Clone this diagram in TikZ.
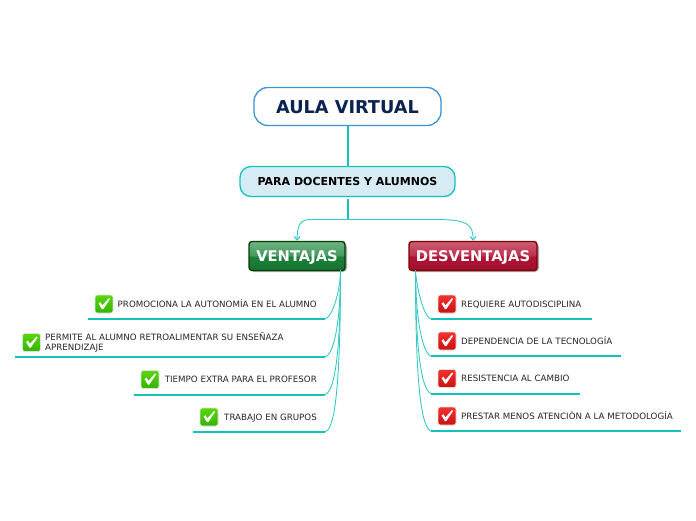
\documentclass[tikz,border=0pt]{standalone}
\usepackage{fontspec}
\setmainfont{DejaVu Sans}
\usepackage{tikz}
\usetikzlibrary{arrows.meta}

\definecolor{linkteal}{HTML}{12C2BE}
\definecolor{rootblue}{HTML}{3A94D4}
\definecolor{rootink}{HTML}{0B2350}
\definecolor{subfill}{HTML}{D6EBF3}
\definecolor{ga}{HTML}{167232}
\definecolor{gb}{HTML}{1C823A}
\definecolor{gc}{HTML}{469B5F}
\definecolor{gd}{HTML}{6EB284}
\definecolor{ra}{HTML}{A01030}
\definecolor{rb}{HTML}{B01434}
\definecolor{rc}{HTML}{BC3250}
\definecolor{rd}{HTML}{CC5C74}
\definecolor{ka}{HTML}{32B400}
\definecolor{kb}{HTML}{5AD70A}
\definecolor{kc}{HTML}{CD1010}
\definecolor{kd}{HTML}{F5322D}
\pgfdeclareverticalshading{glossgreen}{100bp}{color(0bp)=(ga); color(25bp)=(ga); color(49bp)=(gb); color(51bp)=(gc); color(75bp)=(gd); color(100bp)=(gd)}
\pgfdeclareverticalshading{glossred}{100bp}{color(0bp)=(ra); color(25bp)=(ra); color(49bp)=(rb); color(51bp)=(rc); color(75bp)=(rd); color(100bp)=(rd)}
\pgfdeclareverticalshading{tickgreen}{100bp}{color(0bp)=(ka); color(25bp)=(ka); color(75bp)=(kb); color(100bp)=(kb)}
\pgfdeclareverticalshading{tickred}{100bp}{color(0bp)=(kc); color(25bp)=(kc); color(75bp)=(kd); color(100bp)=(kd)}
\tikzset{
    rootnode/.style={draw=rootblue, line width=1.3pt, fill=white, rounded corners=14pt, minimum width=187pt, minimum height=38pt, text=rootink, text height=13pt, text depth=0pt, font=\fontsize{17.7}{20}\selectfont\bfseries},
    subnode/.style={draw=linkteal, line width=1.3pt, fill=subfill, rounded corners=11pt, minimum width=215pt, minimum height=30pt, text height=8pt, text depth=0pt, font=\fontsize{11}{13}\selectfont\bfseries},
    headnode/.style={rounded corners=3pt, line width=1.4pt, text=white, minimum height=29pt, text height=10.7pt, text depth=0pt, font=\fontsize{14.7}{17}\selectfont\bfseries},
    headshade/.style={rounded corners=4pt, fill=black!35},
    leaftext/.style={inner sep=0pt, font=\fontsize{8.7}{10}\selectfont, text=black!85},
    oneline/.style={text height=6.4pt, text depth=0pt},
    tickbox/.style={minimum size=18pt, inner sep=0pt, rounded corners=2.5pt, draw=black!12, line width=.6pt},
    leafline/.style={draw=linkteal, line width=2pt},
    link/.style={draw=linkteal!85, line width=.9pt},
    trunk/.style={draw=linkteal, line width=2pt},
}
\newcommand{\tickmark}[1]{\fill[white] ([shift={(-5.5pt,.5pt)}]#1.center) -- ([shift={(-3.5pt,1.8pt)}]#1.center) -- ([shift={(-1.6pt,-1.4pt)}]#1.center) -- ([shift={(5pt,6pt)}]#1.center) -- ([shift={(6.2pt,5.2pt)}]#1.center) -- ([shift={(-.8pt,-5.2pt)}]#1.center) -- ([shift={(-2pt,-5.2pt)}]#1.center) -- cycle;}

\begin{document}
\begin{tikzpicture}[x=1pt, y=-1pt]
    \useasboundingbox (0, 0) rectangle (696, 520);

    % main boxes
    \node[rootnode] (aula) at (347.5, 106.5) {AULA VIRTUAL};
    \node[subnode] (para) at (347.5, 181.5) {PARA DOCENTES Y ALUMNOS};
    \coordinate (split) at (348, 219.5);
    \draw[trunk] ([xshift=.5pt]aula.south) -- ([xshift=.5pt]para.north);
    \draw[trunk] ([shift={(.5pt,-2pt)}]para.south) -- (split);

    \fill[headshade] (250, 243) rectangle (347, 272);
    \fill[headshade] (410, 243) rectangle (539, 272);
    \node[headnode, minimum width=96pt, draw=green!25!black, shading=glossgreen] (vent) at (297, 256) {VENTAJAS};
    \node[headnode, minimum width=128pt, draw=red!50!black, shading=glossred] (desv) at (473, 256) {DESVENTAJAS};

    \draw[link, -{Straight Barb[line width=1.1pt, length=3.5pt, width=6pt]}] (split) -- (312, 219.5) .. controls (300, 219.5) and (297.5, 224) .. (vent.north);
    \draw[link, -{Straight Barb[line width=1.1pt, length=3.5pt, width=6pt]}] (split) -- (440, 219.5) .. controls (466, 220) and (473.5, 224) .. (desv.north);

    % left side
    \coordinate (ventout) at (340.5, 270);
    \foreach \name/\px/\py/\pl/\txt in {
        va/88/319/317/{PROMOCIONA LA AUTONOMÍA EN EL ALUMNO},
        vc/134/394.5/317/{TIEMPO EXTRA PARA EL PROFESOR},
        vd/193/432/317/{TRABAJO EN GRUPOS}} {
        \coordinate (\name l) at (\px, \py);
        \coordinate (\name r) at (325, \py);
        \draw[leafline] (\name l) -- (\name r);
        \draw[link] (ventout) .. controls (340.5, \py-30) and (333, \py-2) .. (\name r);
        \node[tickbox, shading=tickgreen] (\name i) at (\px+16, \py-15) {};
        \tickmark{\name i}
        \node[leaftext, oneline, anchor=east] (\name t) at (\pl, \py-15) {\txt};
    }
    \coordinate (vbl) at (15, 357);
    \coordinate (vbr) at (325, 357);
    \draw[leafline] (vbl) -- (vbr);
    \draw[link] (ventout) .. controls (340.5, 327) and (333, 355) .. (vbr);
    \node[tickbox, shading=tickgreen] (vbi) at (31.5, 342.5) {};
    \tickmark{vbi}
    \node[leaftext, anchor=west, align=left] (vbt) at (45, 342) {PERMITE AL ALUMNO RETROALIMENTAR SU ENSEÑAZA\\APRENDIZAJE};

    % right side
    \coordinate (desvout) at (415.5, 270);
    \foreach \name/\px/\py/\txt in {
        da/592/319/{REQUIERE AUTODISCIPLINA},
        db/621/356/{DEPENDENCIA DE LA TECNOLOGÍA},
        dc/580/393.5/{RESISTENCIA AL CAMBIO},
        dd/681/431/{PRESTAR MENOS ATENCIÒN A LA METODOLOGÍA}} {
        \coordinate (\name l) at (431, \py);
        \coordinate (\name r) at (\px, \py);
        \draw[leafline] (\name l) -- (\name r);
        \draw[link] (desvout) .. controls (415.5, \py-40) and (422, \py-3) .. (\name l);
        \node[tickbox, shading=tickred] (\name i) at (447, \py-15) {};
        \tickmark{\name i}
        \node[leaftext, oneline, anchor=west] (\name t) at (461, \py-15) {\txt};
    }
\end{tikzpicture}
\end{document}
